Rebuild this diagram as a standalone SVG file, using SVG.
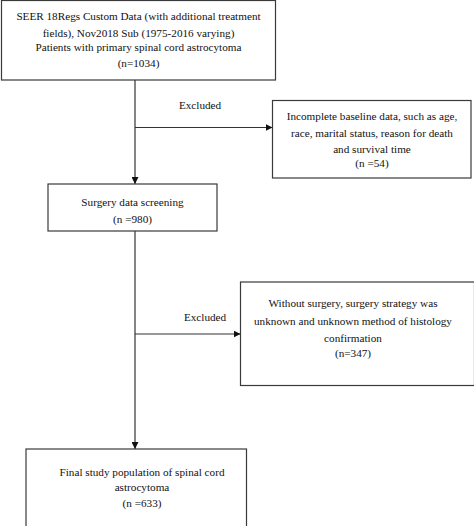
<svg xmlns="http://www.w3.org/2000/svg" width="474" height="526" viewBox="0 0 474 526">
<style>
.box{fill:#fff;stroke:#3a3a3a;stroke-width:1.2}
.t{font-family:"Liberation Serif","Times New Roman",serif;font-size:11.2px;fill:#111;text-anchor:middle}
.ln{stroke:#333;stroke-width:1.2;fill:none}
</style>
<defs>
<marker id="ah" viewBox="0 0 10 10" refX="10" refY="5" markerWidth="7" markerHeight="7" markerUnits="userSpaceOnUse" orient="auto">
<path d="M0,0 L10,5 L0,10 z" fill="#111"/>
</marker>
</defs>
<rect width="474" height="526" fill="#fff"/>
<g id="connectors">
<line class="ln" x1="135" y1="80" x2="135" y2="184" marker-end="url(#ah)"/>
<line class="ln" x1="135" y1="127.5" x2="272.5" y2="127.5" marker-end="url(#ah)"/>
<line class="ln" x1="135" y1="231" x2="135" y2="449" marker-end="url(#ah)"/>
<line class="ln" x1="135" y1="334" x2="240.5" y2="334" marker-end="url(#ah)"/>
<text class="t" x="200" y="109">Excluded</text>
<text class="t" x="205" y="321">Excluded</text>
</g>
<g id="n1">
<rect class="box" x="1.5" y="0.5" width="274" height="79.5"/>
<text class="t" x="138.5" y="20">SEER 18Regs Custom Data (with additional treatment</text>
<text class="t" x="138.5" y="36.5">fields), Nov2018 Sub (1975-2016 varying)</text>
<text class="t" x="138.5" y="51">Patients with primary spinal cord astrocytoma</text>
<text class="t" x="138.5" y="67">(n=1034)</text>
</g>
<g id="n2">
<rect class="box" x="272.5" y="100.5" width="198.5" height="77.5"/>
<text class="t" x="372" y="120">Incomplete baseline data, such as age,</text>
<text class="t" x="372" y="136.5">race, marital status, reason for death</text>
<text class="t" x="372" y="153">and survival time</text>
<text class="t" x="372" y="167">(n =54)</text>
</g>
<g id="n3">
<rect class="box" x="48" y="184" width="169" height="47"/>
<text class="t" x="132.5" y="206">Surgery data screening</text>
<text class="t" x="132.5" y="223">(n =980)</text>
</g>
<g id="n4">
<rect class="box" x="240.5" y="282" width="234" height="103.5"/>
<text class="t" x="353" y="307">Without surgery, surgery strategy was</text>
<text class="t" x="353" y="325">unknown and unknown method of histology</text>
<text class="t" x="353" y="341.5">confirmation</text>
<text class="t" x="353" y="357">(n=347)</text>
</g>
<g id="n5">
<rect class="box" x="26" y="449" width="220.5" height="80"/>
<text class="t" x="142" y="475.5">Final study population of spinal cord</text>
<text class="t" x="142" y="491">astrocytoma</text>
<text class="t" x="142" y="506.5">(n =633)</text>
</g>
</svg>
